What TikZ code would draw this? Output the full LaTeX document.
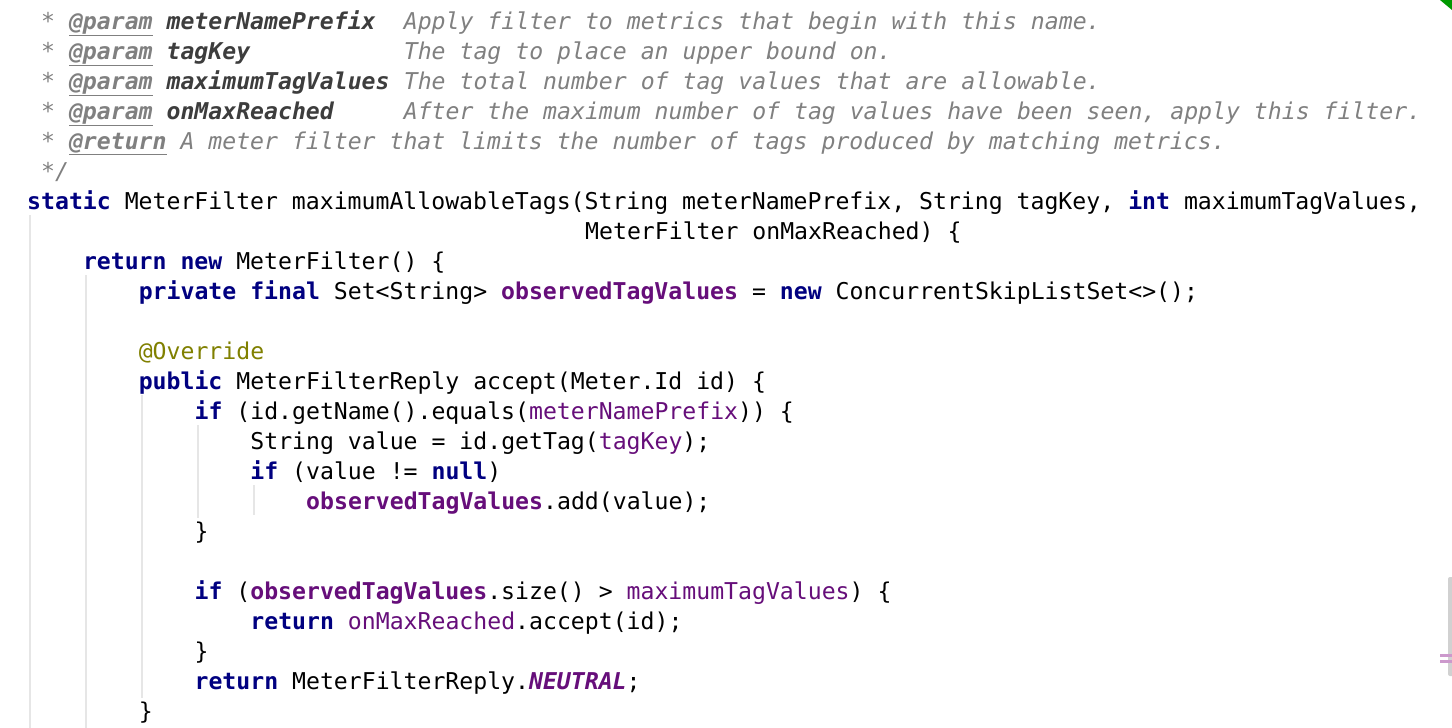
\documentclass[tikz,border=0pt]{standalone}
\usepackage{fontspec}
\setmonofont{DejaVu Sans Mono}
\definecolor{kw}{HTML}{000080}
\definecolor{fld}{HTML}{660E7A}
\definecolor{cmt}{HTML}{808080}
\definecolor{tagn}{HTML}{3D3D3D}
\definecolor{ann}{HTML}{808000}
\definecolor{guide}{HTML}{E6E6E6}
\newcommand{\cdK}[1]{\textcolor{kw}{\bfseries #1}}
\newcommand{\cdF}[1]{\textcolor{fld}{\bfseries #1}}
\newcommand{\cdP}[1]{\textcolor{fld}{#1}}
\newcommand{\cdC}[1]{\textcolor{cmt}{\itshape #1}}
\newcommand{\cdT}[1]{\textcolor{cmt}{\bfseries\itshape\underline{#1}}}
\newcommand{\cdN}[1]{\textcolor{tagn}{\bfseries\itshape #1}}
\newcommand{\codeline}[4]{\node[code] (#1) at ({27+13.95*#2},{27+30*#3}) {#4};}
\begin{document}
\begin{tikzpicture}[x=1pt,y=-1pt,
  code/.style={anchor=mid west,inner sep=0pt,font=\ttfamily\fontsize{23.15}{30}\selectfont},
  gl/.style={draw=guide,line width=1.2pt}]
\useasboundingbox (0,0) rectangle (1452,728);
\fill[white] (0,0) rectangle (1452,728);
% indent guides
\draw[gl] (30,215) -- (30,728);
\draw[gl] (86,275) -- (86,728);
\draw[gl] (142,395) -- (142,698);
\draw[gl] (198,425) -- (198,518);
\draw[gl] (254,485) -- (254,515);
% comment block
\codeline{c0}{1}{0}{\cdC{*} \cdT{@param} \cdN{meterNamePrefix}}
\codeline{c0b}{27}{0}{\cdC{Apply filter to metrics that begin with this name.}}
\codeline{c1}{1}{1}{\cdC{*} \cdT{@param} \cdN{tagKey}}
\codeline{c1b}{27}{1}{\cdC{The tag to place an upper bound on.}}
\codeline{c2}{1}{2}{\cdC{*} \cdT{@param} \cdN{maximumTagValues}}
\codeline{c2b}{27}{2}{\cdC{The total number of tag values that are allowable.}}
\codeline{c3}{1}{3}{\cdC{*} \cdT{@param} \cdN{onMaxReached}}
\codeline{c3b}{27}{3}{\cdC{After the maximum number of tag values have been seen, apply this filter.}}
\codeline{c4}{1}{4}{\cdC{*} \cdT{@return} \cdC{A meter filter that limits the number of tags produced by matching metrics.}}
\codeline{c5}{1}{5}{\cdC{*/}}
% code
\codeline{l6}{0}{6}{\cdK{static} MeterFilter maximumAllowableTags(String meterNamePrefix, String tagKey, \cdK{int} maximumTagValues,}
\codeline{l7}{40}{7}{MeterFilter onMaxReached) \{}
\codeline{l8}{4}{8}{\cdK{return new} MeterFilter() \{}
\codeline{l9}{8}{9}{\cdK{private final} Set<String> \cdF{observedTagValues} = \cdK{new} ConcurrentSkipListSet<>();}
\codeline{l11}{8}{11}{\textcolor{ann}{@Override}}
\codeline{l12}{8}{12}{\cdK{public} MeterFilterReply accept(Meter.Id id) \{}
\codeline{l13}{12}{13}{\cdK{if} (id.getName().equals(\cdP{meterNamePrefix})) \{}
\codeline{l14}{16}{14}{String value = id.getTag(\cdP{tagKey});}
\codeline{l15}{16}{15}{\cdK{if} (value != \cdK{null})}
\codeline{l16}{20}{16}{\cdF{observedTagValues}.add(value);}
\codeline{l17}{12}{17}{\}}
\codeline{l19}{12}{19}{\cdK{if} (\cdF{observedTagValues}.size() > \cdP{maximumTagValues}) \{}
\codeline{l20}{16}{20}{\cdK{return} \cdP{onMaxReached}.accept(id);}
\codeline{l21}{12}{21}{\}}
\codeline{l22}{12}{22}{\cdK{return} MeterFilterReply.\textcolor{fld}{\bfseries\itshape NEUTRAL};}
\codeline{l23}{8}{23}{\}}
% right edge marks
\fill[black!18,rounded corners=2pt] (1448,577) rectangle (1456,676);
\fill[violet!40] (1440,654) rectangle (1452,657);
\fill[violet!40] (1440,660) rectangle (1452,663);
\fill[green!60!black] (1440,0) -- (1452,0) -- (1452,10) -- cycle;
\end{tikzpicture}
\end{document}
